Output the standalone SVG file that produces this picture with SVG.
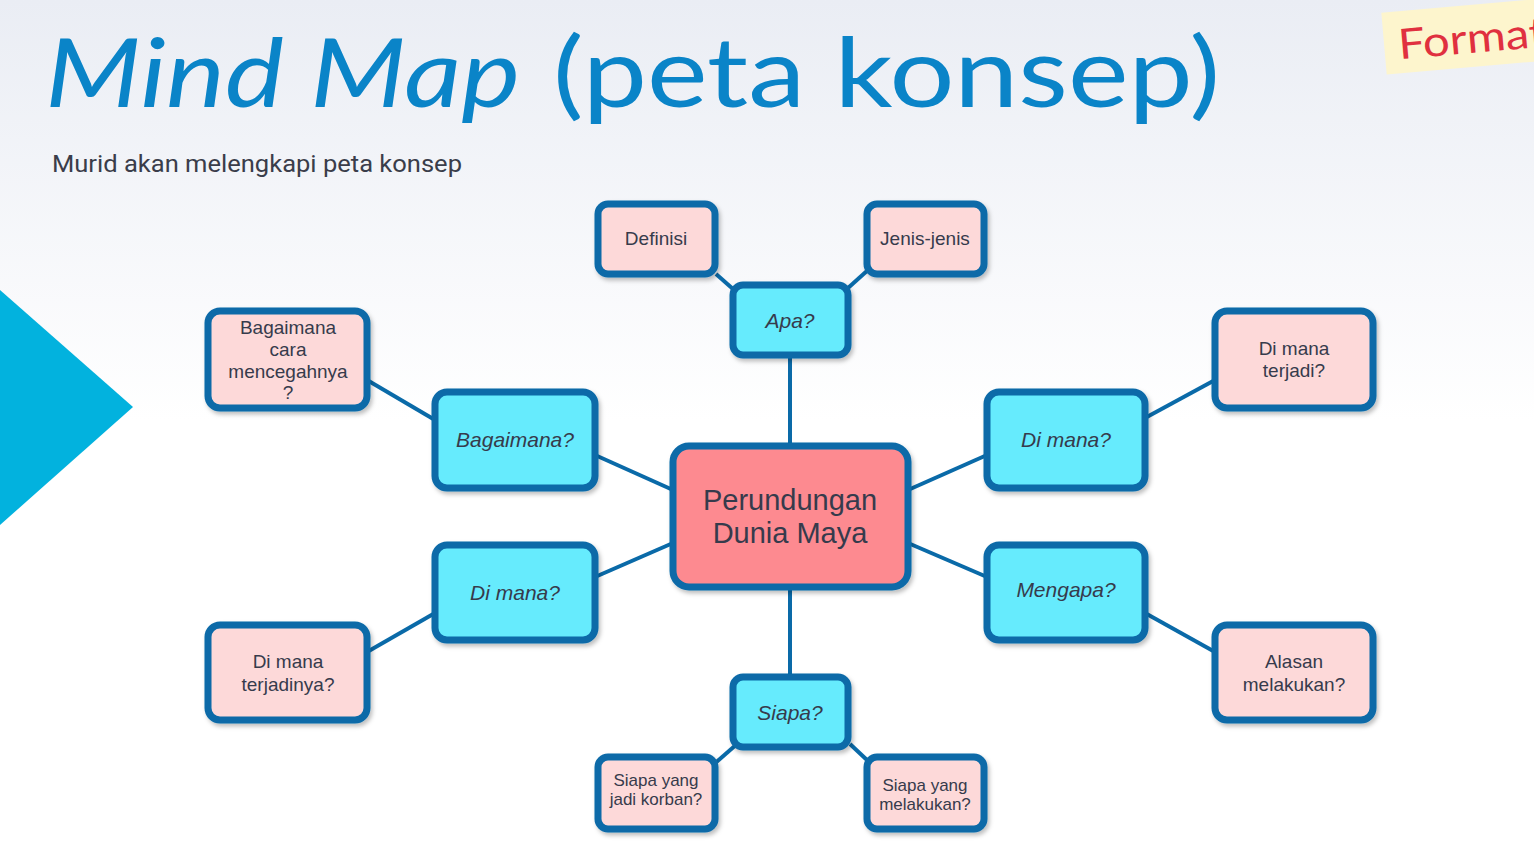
<svg xmlns="http://www.w3.org/2000/svg" width="1534" height="842" viewBox="0 0 1534 842">
<defs>
<linearGradient id="bg" x1="0" y1="0" x2="0" y2="1">
<stop offset="0" stop-color="#eaedf4"/>
<stop offset="0.5" stop-color="#ffffff"/>
<stop offset="1" stop-color="#ffffff"/>
</linearGradient>
<filter id="sh" x="-10%" y="-10%" width="130%" height="130%">
<feDropShadow dx="2" dy="3" stdDeviation="2" flood-color="#000" flood-opacity="0.25"/>
</filter>
</defs>
<style>
.node{stroke:#0a6aa8;stroke-width:7;filter:url(#sh)}
.main{fill:#fd8a90}
.q{fill:#66ebfd}
.leaf{fill:#fdd9d9}
.t{font-family:"Liberation Sans",Arial,sans-serif;fill:#363b4c;text-anchor:middle}
.ti{font-style:italic;font-size:21px}
.tl{font-size:19px}
.conn line{stroke:#0a6aa8;stroke-width:4}
</style>
<rect width="1534" height="842" fill="url(#bg)"/>
<polygon points="0,290 133,407 0,525" fill="#02b2de"/>
<g transform="rotate(-5 1460 40)">
<rect x="1384" y="6" width="175" height="62" fill="#fdf5cd"/>
<text x="1398" y="54" font-family="Lato,'Liberation Sans',sans-serif" font-size="42" fill="#e0303f" textLength="148" lengthAdjust="spacingAndGlyphs">Format</text>
</g>
<text x="45" y="107" font-family="Lato,'Liberation Sans',sans-serif" font-style="italic" font-size="96" fill="#0a84c8" textLength="475" lengthAdjust="spacingAndGlyphs">Mind Map</text>
<text x="553" y="107" font-family="Lato,'Liberation Sans',sans-serif" font-size="96" fill="#0a84c8" textLength="667" lengthAdjust="spacingAndGlyphs">(peta konsep)</text>
<text x="52" y="172" font-family="Roboto,'Liberation Sans',sans-serif" font-size="24" fill="#3a3d4a" textLength="410" lengthAdjust="spacingAndGlyphs">Murid akan melengkapi peta konsep</text>
<g class="conn" id="connectors">
<line x1="790" y1="446" x2="790" y2="355"/>
<line x1="790" y1="587" x2="790" y2="677"/>
<line x1="673" y1="490" x2="595" y2="455"/>
<line x1="673" y1="543" x2="595" y2="577"/>
<line x1="908" y1="490" x2="987" y2="455"/>
<line x1="908" y1="543" x2="987" y2="577"/>
<line x1="716" y1="274" x2="733" y2="289"/>
<line x1="848" y1="288" x2="868" y2="270"/>
<line x1="435" y1="420" x2="367" y2="380"/>
<line x1="1145" y1="418" x2="1215" y2="380"/>
<line x1="435" y1="613" x2="367" y2="652"/>
<line x1="1145" y1="613" x2="1215" y2="652"/>
<line x1="737" y1="744" x2="713" y2="765"/>
<line x1="850" y1="744" x2="868" y2="761"/>
</g>
<g id="center"><rect class="node main" x="673" y="446" width="235" height="141" rx="16"/><text class="t" x="790" y="510" font-size="29">Perundungan</text><text class="t" x="790" y="543" font-size="29">Dunia Maya</text></g>
<g id="apa"><rect class="node q" x="733" y="285" width="115" height="70" rx="10"/><text class="t ti" x="790" y="328">Apa?</text></g>
<g id="definisi"><rect class="node leaf" x="598" y="204" width="117" height="70" rx="10"/><text class="t tl" x="656" y="245">Definisi</text></g>
<g id="jenis"><rect class="node leaf" x="867" y="204" width="117" height="70" rx="10"/><text class="t tl" x="925" y="245">Jenis-jenis</text></g>
<g id="bagaimana"><rect class="node q" x="435" y="392" width="160" height="96" rx="12"/><text class="t ti" x="515" y="447">Bagaimana?</text></g>
<g id="mencegah"><rect class="node leaf" x="208" y="311" width="159" height="97" rx="12"/><text class="t tl" x="288" y="334">Bagaimana</text><text class="t tl" x="288" y="356">cara</text><text class="t tl" x="288" y="378">mencegahnya</text><text class="t tl" x="288" y="399">?</text></g>
<g id="dimana-r"><rect class="node q" x="987" y="392" width="158" height="96" rx="12"/><text class="t ti" x="1066" y="447">Di mana?</text></g>
<g id="terjadi"><rect class="node leaf" x="1215" y="311" width="158" height="97" rx="12"/><text class="t tl" x="1294" y="355">Di mana</text><text class="t tl" x="1294" y="377">terjadi?</text></g>
<g id="dimana-l"><rect class="node q" x="435" y="545" width="160" height="95" rx="12"/><text class="t ti" x="515" y="600">Di mana?</text></g>
<g id="terjadinya"><rect class="node leaf" x="208" y="625" width="159" height="95" rx="12"/><text class="t tl" x="288" y="668">Di mana</text><text class="t tl" x="288" y="691">terjadinya?</text></g>
<g id="mengapa"><rect class="node q" x="987" y="545" width="158" height="95" rx="12"/><text class="t ti" x="1066" y="597">Mengapa?</text></g>
<g id="alasan"><rect class="node leaf" x="1215" y="625" width="158" height="95" rx="12"/><text class="t tl" x="1294" y="668">Alasan</text><text class="t tl" x="1294" y="691">melakukan?</text></g>
<g id="siapa"><rect class="node q" x="733" y="677" width="115" height="70" rx="10"/><text class="t ti" x="790" y="720">Siapa?</text></g>
<g id="korban"><rect class="node leaf" x="598" y="757" width="117" height="72" rx="10"/><text class="t" x="656" y="786" font-size="17">Siapa yang</text><text class="t" x="656" y="805" font-size="17">jadi korban?</text></g>
<g id="pelaku"><rect class="node leaf" x="867" y="757" width="117" height="72" rx="10"/><text class="t" x="925" y="791" font-size="17">Siapa yang</text><text class="t" x="925" y="810" font-size="17">melakukan?</text></g>
</svg>
